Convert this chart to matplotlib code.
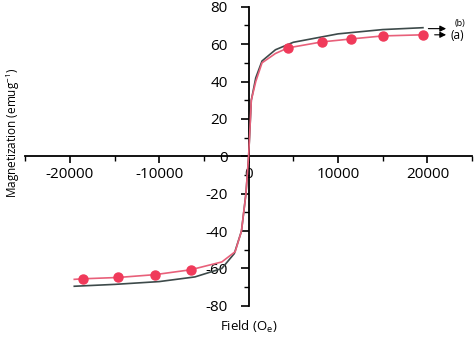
import matplotlib
matplotlib.use("Agg")
import matplotlib.pyplot as plt
from matplotlib.ticker import MultipleLocator

plt.rcParams['font.family'] = ['Open Sans', 'DejaVu Sans']
plt.rcParams['axes.unicode_minus'] = False

# Curve (a): pink line with markers
a_x = [-19500, -18500, -14600, -10500, -6500, -3000, -1500, -800, -300, 0,
       300, 800, 1500, 3000, 4400, 8200, 11500, 15000, 19500]
a_y = [-65.8, -65.5, -64.8, -63.3, -60.7, -56.5, -51, -40, -20, 0,
       30, 40, 50, 55, 58, 61.2, 62.8, 64.4, 65]
a_mx = [-18500, -14600, -10500, -6500, 4400, 8200, 11500, 15000, 19500]
a_my = [-65.5, -64.8, -63.3, -60.7, 58, 61.2, 62.8, 64.4, 65]

# Curve (b): dark grey line
b_x = [-19500, -15000, -10000, -6000, -3000, -1600, -800, -300, 0,
       300, 800, 1500, 3000, 5000, 10000, 15000, 19500]
b_y = [-69.5, -68.5, -67, -64.5, -60, -52, -40, -20, 0,
       30, 42, 51, 57, 61, 65.5, 67.8, 68.8]

fig = plt.figure(figsize=(4.74, 3.38), dpi=100)
ax = fig.add_axes([0.053, 0.095, 0.943, 0.885])

ax.plot(b_x, b_y, color='#3d4a4a', lw=1.2, zorder=2)
ax.plot(a_x, a_y, color='#e8607a', lw=1.2, zorder=3)
ax.plot(a_mx, a_my, 'o', color='#f03a5a', ms=6.5, zorder=4)

ax.set_xlim(-25000, 25000)
ax.set_ylim(-80, 80)

for s in ['top', 'right']:
    ax.spines[s].set_visible(False)
ax.spines['left'].set_position(('data', 0))
ax.spines['bottom'].set_position(('data', 0))
ax.spines['left'].set_linewidth(1.3)
ax.spines['bottom'].set_linewidth(1.3)

ax.xaxis.set_major_locator(MultipleLocator(10000))
ax.xaxis.set_minor_locator(MultipleLocator(5000))
ax.yaxis.set_major_locator(MultipleLocator(20))
ax.yaxis.set_minor_locator(MultipleLocator(10))
ax.tick_params(axis='x', which='major', direction='out', length=5, width=1.2,
               labelsize=11, pad=3)
ax.tick_params(axis='y', which='major', direction='out', length=6, width=1.2,
               labelsize=11, pad=9)
ax.tick_params(axis='both', which='minor', direction='out', length=3.5, width=1.0)
ax.set_xticks([-20000, -10000, 0, 10000, 20000])
ax.set_xticklabels(['-20000', '-10000', '0', '10000', '20000'])

ax.set_xlabel('Field (O$_\\mathregular{e}$)', fontsize=9.5)
ax.xaxis.set_label_coords(0.5, -0.045)
ax.set_ylabel('Magnetization (emug$^\\mathregular{-1}$)', fontsize=8.5)
ax.yaxis.set_label_coords(-0.006, 0.58)

ax.annotate('', xy=(22400, 68.3), xytext=(19800, 68.3),
            arrowprops=dict(arrowstyle='-|>', color='black', lw=0.8,
                            mutation_scale=9))
ax.text(23000, 71.2, '(b)', fontsize=6.5, va='center', ha='left')
ax.annotate('', xy=(22400, 65), xytext=(20500, 65),
            arrowprops=dict(arrowstyle='-|>', color='black', lw=0.8,
                            mutation_scale=9))
ax.text(22600, 64.6, '(a)', fontsize=8.5, va='center', ha='left')

fig.savefig('out.png', dpi=100)
